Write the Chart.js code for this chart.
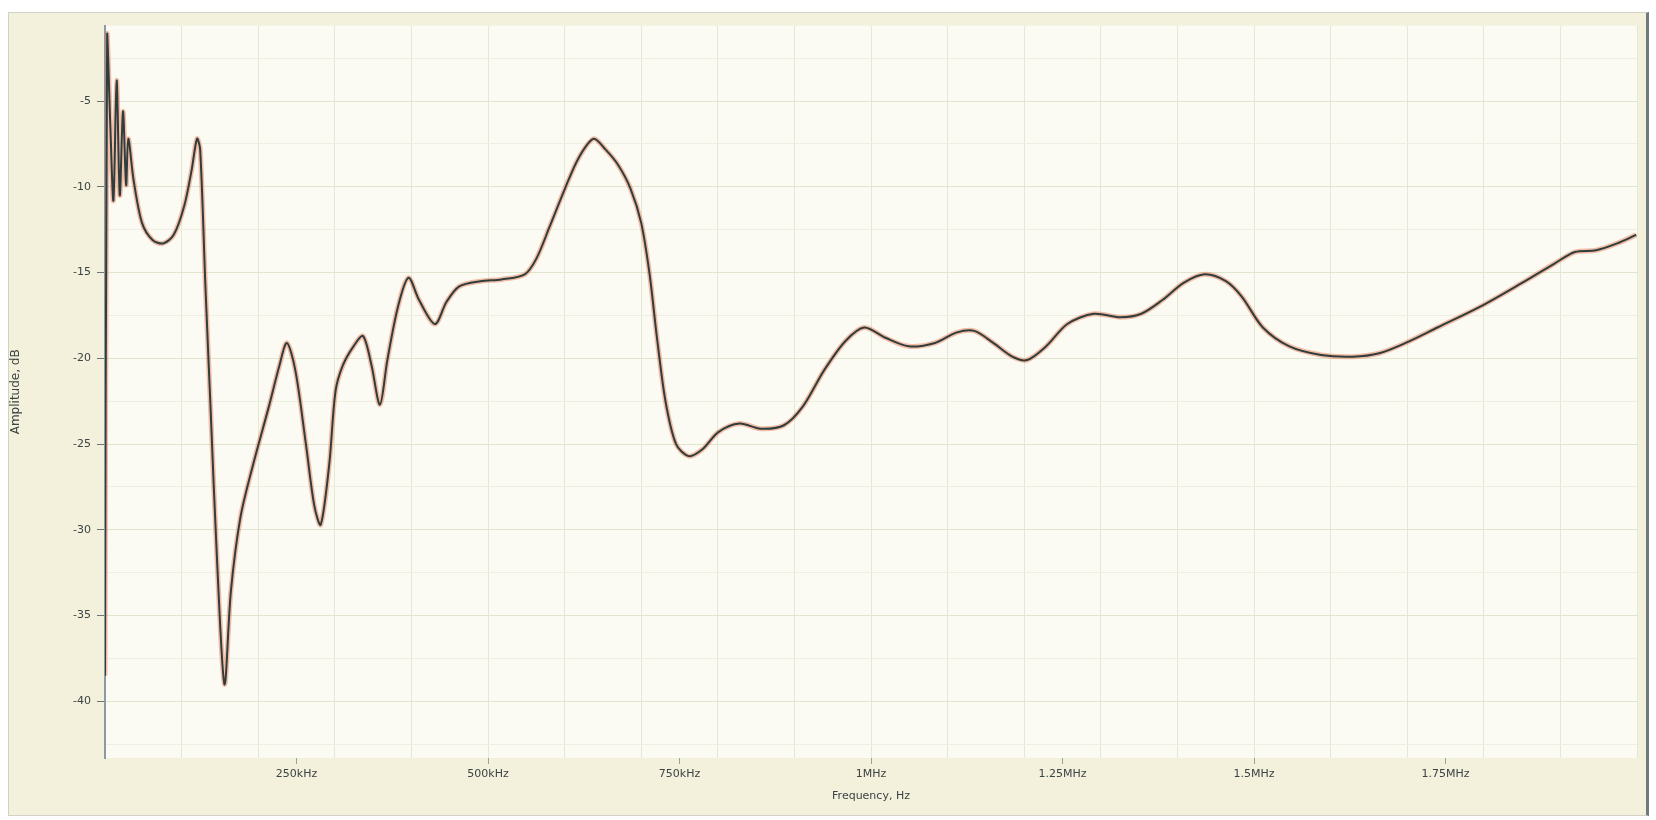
<!DOCTYPE html>
<html>
<head>
<meta charset="utf-8">
<script src="https://cdn.jsdelivr.net/npm/chart.js@4.4.0/dist/chart.umd.min.js"></script>
<style>
    html, body { margin: 0; padding: 0; background: #ffffff; }
    #frame {
        position: absolute; left: 8px; top: 12px;
        width: 1637px; height: 802px;
        background: #f3f0dc;
        border: 1px solid #cfd2c4;
        border-right: 3px solid #6f7a7a;
    }
    #wrap { position: relative; width: 1637px; height: 802px; }
</style>
</head>
<body>
<div id="frame"><div id="wrap"><canvas id="respChart"></canvas></div></div>
<script>
// frequency response (kHz / dB)
const freqKHz = [0, 2.8, 7, 11, 15.2, 19.3, 23.5, 27.6, 30.4, 37.3, 48.3, 62.1, 75.9, 89.7, 103.5, 113.2, 120.1, 124.2,
    131.1, 138, 146.3, 156, 164.3, 176.7, 193.3, 214, 227.8, 237.4, 248.5, 262.3, 273.3, 281.6, 292.7, 301, 310.6,
    324.4, 336.8, 347.9, 358.9, 368.6, 382.4, 396.2, 410, 430.7, 445.9, 462.5, 490, 517.7, 548, 563, 579.8, 600.5,
    618.5, 637.8, 653, 669.5, 686, 700, 711, 720.6, 731.7, 745.5, 762, 780, 800.7, 828.3, 855.9, 886.3, 911.1,
    938.7, 966.4, 991.2, 1018.8, 1049.2, 1083.7, 1111.3, 1134.8, 1159.6, 1184.5, 1203.8, 1228.6, 1256.3, 1290.8,
    1325.3, 1352.9, 1380.5, 1408.1, 1435.7, 1463.3, 1484, 1511.6, 1546.2, 1587.6, 1629, 1663.5, 1698, 1739.5,
    1794.7, 1849.9, 1891.3, 1918.9, 1946.5, 1974.1, 1999];
const amplitudeDb = [-38.5, -1.1, -6.5, -10.8, -3.8, -10.5, -5.6, -9.9, -7.2, -9.6, -12.1, -13.1, -13.3, -12.8, -11.1, -9.0, -7.2, -7.8,
    -15.8, -23.1, -31.8, -39.0, -33.6, -29.3, -26.2, -22.8, -20.4, -19.1, -20.7, -25, -28.6, -29.7, -26.2, -21.9, -20.4,
    -19.3, -18.7, -20.4, -22.7, -20.1, -17, -15.3, -16.6, -18, -16.7, -15.8, -15.5, -15.4, -15.1, -14.2, -12.4, -10.1,
    -8.3, -7.2, -7.8, -8.7, -10.1, -12.1, -15.1, -18.8, -22.5, -25, -25.7, -25.3, -24.3, -23.8, -24.1, -23.9, -22.8,
    -20.7, -19, -18.2, -18.8, -19.3, -19.1, -18.5, -18.4, -19.1, -19.9, -20.1, -19.3, -18, -17.4,
    -17.6, -17.4, -16.6, -15.6, -15.1, -15.5, -16.4, -18.2, -19.3, -19.8, -19.9, -19.7, -19.1, -18.2,
    -17, -15.6, -14.5, -13.8, -13.7, -13.3, -12.8];

const xLabelsHz = [250000, 500000, 750000, 1000000, 1250000, 1500000, 1750000];
const yLabelsDb = [-5, -10, -15, -20, -25, -30, -35, -40];

const points = freqKHz.map((f, i) => ({ x: f * 1000, y: amplitudeDb[i] }));

function fmtHz(v) {
    if (v >= 1000000) return (v / 1000000) + 'MHz';
    return (v / 1000) + 'kHz';
}

// plot background
const plotBg = {
    id: 'plotBg',
    beforeDraw(chart) {
        const { ctx, chartArea: a } = chart;
        ctx.save();
        ctx.fillStyle = '#fbfbf4';
        ctx.fillRect(a.left, a.top, a.right - a.left, a.bottom - a.top);
        ctx.restore();
    }
};

const near = (v, m) => Math.abs(v / m - Math.round(v / m)) < 1e-6;

new Chart(document.getElementById('respChart').getContext('2d'), {
    type: 'line',
    data: {
        datasets: [{
            data: points,
            borderColor: '#2f3d3d',
            borderWidth: 2,
            pointRadius: 0,
            tension: 0.3,
            fill: false
        }, {
            data: points,
            borderColor: 'rgba(228, 112, 72, 0.45)',
            borderWidth: 5,
            pointRadius: 0,
            tension: 0.3,
            fill: false
        }]
    },
    options: {
        responsive: true,
        maintainAspectRatio: false,
        animation: false,
        layout: { padding: { left: 0, top: 10, right: 9, bottom: 0 } },
        plugins: {
            legend: { display: false },
            tooltip: { enabled: false }
        },
        scales: {
            x: {
                type: 'linear',
                min: 0,
                max: 2000000,
                afterFit: (s) => { s.height = 57; },
                border: { display: false },
                grid: {
                    color: (c) => near(c.tick.value, 100000) ? '#e4e9d3' : 'rgba(0,0,0,0)',
                    tickColor: (c) => xLabelsHz.includes(c.tick.value) ? '#9aa0a0' : 'rgba(0,0,0,0)',
                    tickLength: 6
                },
                ticks: {
                    stepSize: 50000,
                    autoSkip: false,
                    maxRotation: 0,
                    padding: 4,
                    color: '#3c4444',
                    font: { family: 'DejaVu Sans', size: 11 },
                    callback: (v) => xLabelsHz.includes(v) ? fmtHz(v) : ''
                },
                title: {
                    display: true,
                    text: 'Frequency, Hz',
                    color: '#3c4444',
                    font: { family: 'DejaVu Sans', size: 11 },
                    padding: { top: 0, bottom: 12 }
                }
            },
            y: {
                min: -43.3,
                max: -0.6,
                afterFit: (s) => { s.width = 96; },
                border: { display: true, color: '#8c9aa6', width: 2 },
                grid: {
                    color: (c) => near(c.tick.value, 5) ? '#e0e6cd' : (near(c.tick.value, 2.5) ? '#edf0e1' : 'rgba(0,0,0,0)'),
                    tickColor: (c) => yLabelsDb.includes(c.tick.value) ? '#6c7676' : 'rgba(0,0,0,0)',
                    tickLength: 8
                },
                ticks: {
                    stepSize: 2.5,
                    autoSkip: false,
                    padding: 6,
                    color: '#3c4444',
                    font: { family: 'DejaVu Sans', size: 11 },
                    callback: (v) => yLabelsDb.includes(v) ? String(v) : ''
                },
                title: {
                    display: true,
                    text: 'Amplitude, dB',
                    color: '#3c4444',
                    font: { family: 'DejaVu Sans', size: 12 },
                    padding: { top: 0, bottom: 0 }
                }
            }
        }
    },
    plugins: [plotBg]
});
</script>
</body>
</html>
